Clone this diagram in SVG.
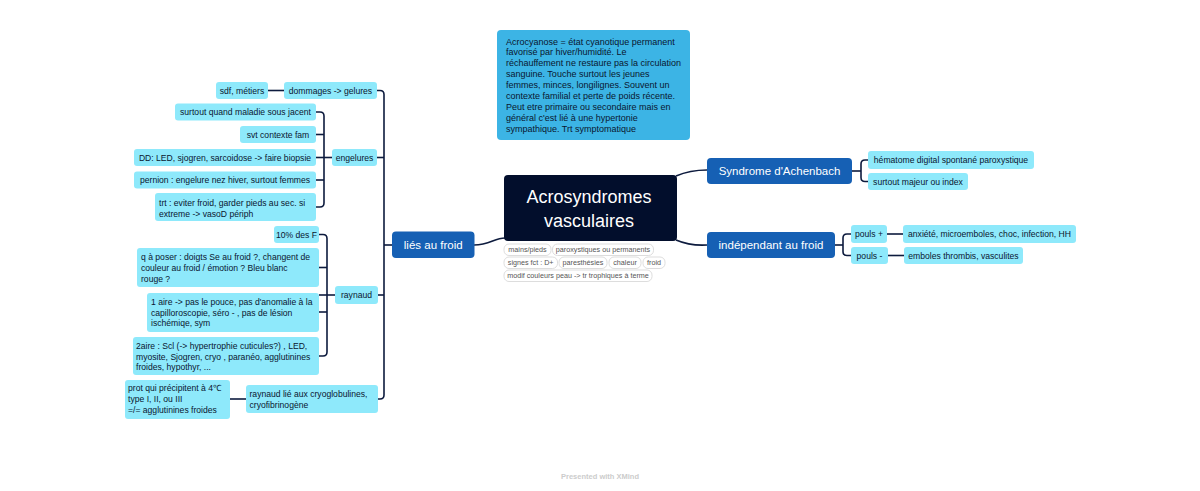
<svg xmlns="http://www.w3.org/2000/svg" width="1200" height="491" viewBox="0 0 1200 491">
<style>
.c{fill:#8ee9fb}
.b{fill:#1660b4}
.t{font-family:"Liberation Sans",Arial,sans-serif;font-size:8.6px;fill:#0a1630}
.tm{text-anchor:middle}
.w{font-family:"Liberation Sans",Arial,sans-serif;font-size:11.5px;fill:#ffffff;text-anchor:middle}
.p{fill:#ffffff;stroke:#d4d4d4;stroke-width:0.8}
.pt{font-family:"Liberation Sans",Arial,sans-serif;font-size:7.2px;fill:#555;text-anchor:middle}
.ln{fill:none;stroke:#0d1b3e;stroke-width:1.6}
</style>
<rect width="1200" height="491" fill="#ffffff"/>
<g id="connectors" class="ln">
<path d="M474,245 C490,245 494,238 505,238"/>
<path d="M676,176 Q690,170 707,170"/>
<path d="M676,240 Q690,246 707,245"/>
<path d="M392,245 H384"/>
<path d="M377,90.5 H380 Q384,90.5 384,94.5 V395 Q384,399 380,399 H378"/>
<path d="M377,157.5 H384"/>
<path d="M378,295 H384"/>
<path d="M268,90.5 H284"/>
<path d="M332,157.5 H316"/>
<path d="M316,112 H320 Q324,112 324,116 V203 Q324,207 320,207 H316"/>
<path d="M316,134.5 H324"/>
<path d="M316,180 H324"/>
<path d="M335,295 H319"/>
<path d="M319,234.5 H323 Q327,234.5 327,238.5 V352 Q327,356 323,356 H319"/>
<path d="M319,267.5 H327"/>
<path d="M319,312 H327"/>
<path d="M230,399 H246"/>
<path d="M852,171 H861"/>
<path d="M868,160 H865 Q861,160 861,164 V177.5 Q861,181.5 865,181.5 H868"/>
<path d="M835,245 H843"/>
<path d="M851,234 H847 Q843,234 843,238 V251.5 Q843,255.5 847,255.5 H851"/>
<path d="M887,234 H903"/>
<path d="M888,255.5 H904"/>
</g>
<g id="note">
<rect x="497" y="30" width="193" height="110" rx="4" fill="#3cb4e5"/>
<text class="t" style="font-size:9px" x="506">
<tspan x="506" y="44.5">Acrocyanose = état cyanotique permanent</tspan>
<tspan x="506" y="55.4">favorisé par hiver/humidité. Le</tspan>
<tspan x="506" y="66.3">réchauffement ne restaure pas la circulation</tspan>
<tspan x="506" y="77.2">sanguine. Touche surtout les jeunes</tspan>
<tspan x="506" y="88.1">femmes, minces, longilignes. Souvent un</tspan>
<tspan x="506" y="99">contexte familial et perte de poids récente.</tspan>
<tspan x="506" y="109.9">Peut etre primaire ou secondaire mais en</tspan>
<tspan x="506" y="120.8">général c'est lié à une hypertonie</tspan>
<tspan x="506" y="131.7">sympathique. Trt symptomatique</tspan>
</text>
</g>
<g id="central">
<rect x="504" y="175" width="173" height="66" rx="4" fill="#020e2c"/>
<text font-family="Liberation Sans,Arial,sans-serif" font-size="18" fill="#ffffff" text-anchor="middle"><tspan x="589" y="203">Acrosyndromes</tspan><tspan x="589" y="226.5">vasculaires</tspan></text>
</g>
<g id="central-labels">
<rect class="p" x="504" y="244" width="47" height="11.5" rx="5"/><text class="pt" x="527.5" y="252.3">mains/pieds</text>
<rect class="p" x="552.5" y="244" width="101" height="11.5" rx="5"/><text class="pt" x="603" y="252.3">paroxystiques ou permanents</text>
<rect class="p" x="504" y="257" width="53.5" height="11.5" rx="5"/><text class="pt" x="530.7" y="265.3">signes fct : D+</text>
<rect class="p" x="559" y="257" width="48" height="11.5" rx="5"/><text class="pt" x="583" y="265.3">paresthésies</text>
<rect class="p" x="609" y="257" width="32" height="11.5" rx="5"/><text class="pt" x="625" y="265.3">chaleur</text>
<rect class="p" x="643" y="257" width="22" height="11.5" rx="5"/><text class="pt" x="654" y="265.3">froid</text>
<rect class="p" x="504" y="270" width="148" height="11.5" rx="5"/><text class="pt" x="578" y="278.3">modif couleurs peau -&gt; tr trophiques à terme</text>
</g>
<g id="lies-au-froid">
<rect class="b" x="392" y="231.5" width="82.5" height="26.5" rx="4"/>
<text class="w" x="433.2" y="249">liés au froid</text>
</g>
<g id="dommages">
<rect class="c" x="284" y="82" width="93" height="17" rx="3"/>
<text class="t tm" x="330.5" y="93.5">dommages -&gt; gelures</text>
</g>
<g id="sdf">
<rect class="c" x="216" y="82" width="52" height="17" rx="3"/>
<text class="t tm" x="242" y="93.5">sdf, métiers</text>
</g>
<g id="engelures">
<rect class="c" x="332" y="149" width="45" height="17" rx="3"/>
<text class="t tm" x="354.5" y="160.5">engelures</text>
</g>
<g id="maladie">
<rect class="c" x="175" y="103.5" width="141" height="17" rx="3"/>
<text class="t tm" x="245.5" y="115">surtout quand maladie sous jacent</text>
</g>
<g id="contexte">
<rect class="c" x="240" y="126" width="76" height="17" rx="3"/>
<text class="t tm" x="278" y="137.5">svt contexte fam</text>
</g>
<g id="dd">
<rect class="c" x="134" y="149" width="182" height="17" rx="3"/>
<text class="t tm" x="225" y="160.5">DD: LED, sjogren, sarcoidose -&gt; faire biopsie</text>
</g>
<g id="pernion">
<rect class="c" x="134" y="171.5" width="182" height="17" rx="3"/>
<text class="t tm" x="225" y="183">pernion : engelure nez hiver, surtout femmes</text>
</g>
<g id="trt">
<rect class="c" x="155" y="193" width="161" height="28" rx="3"/>
<text class="t"><tspan x="159" y="206">trt : eviter froid, garder pieds au sec. si</tspan><tspan x="159" y="217">extreme -&gt; vasoD périph</tspan></text>
</g>
<g id="raynaud">
<rect class="c" x="335" y="286" width="43" height="18" rx="3"/>
<text class="t tm" x="356.5" y="298">raynaud</text>
</g>
<g id="dix-pourcent">
<rect class="c" x="274" y="226" width="45" height="17" rx="3"/>
<text class="t tm" x="296.5" y="237.5">10% des F</text>
</g>
<g id="q-a-poser">
<rect class="c" x="137" y="248" width="182" height="39" rx="3"/>
<text class="t"><tspan x="141" y="260">q à poser : doigts Se au froid ?, changent de</tspan><tspan x="141" y="271">couleur au froid / émotion ? Bleu blanc</tspan><tspan x="141" y="282">rouge ?</tspan></text>
</g>
<g id="primaire">
<rect class="c" x="147" y="293" width="172" height="39" rx="3"/>
<text class="t"><tspan x="151" y="305">1 aire -&gt; pas le pouce, pas d'anomalie à la</tspan><tspan x="151" y="315.5">capilloroscopie, séro - , pas de lésion</tspan><tspan x="151" y="326">ischémiqe, sym</tspan></text>
</g>
<g id="secondaire">
<rect class="c" x="133" y="337" width="186" height="38" rx="3"/>
<text class="t"><tspan x="136" y="349">2aire : Scl (-&gt; hypertrophie cuticules?) , LED,</tspan><tspan x="136" y="359.5">myosite, Sjogren, cryo , paranéo, agglutinines</tspan><tspan x="136" y="370">froides, hypothyr, ...</tspan></text>
</g>
<g id="cryo">
<rect class="c" x="246" y="385" width="132" height="28" rx="3"/>
<text class="t"><tspan x="249.5" y="397">raynaud lié aux cryoglobulines,</tspan><tspan x="249.5" y="407.5">cryofibrinogène</tspan></text>
</g>
<g id="prot">
<rect class="c" x="125" y="380" width="105" height="39" rx="3"/>
<text class="t"><tspan x="128" y="391">prot qui précipitent à 4℃</tspan><tspan x="128" y="402">type I, II, ou III</tspan><tspan x="128" y="413">=/= agglutinines froides</tspan></text>
</g>
<g id="achenbach">
<rect class="b" x="707" y="158" width="145" height="26" rx="4"/>
<text class="w" x="779.5" y="175">Syndrome d'Achenbach</text>
</g>
<g id="hematome">
<rect class="c" x="868" y="151" width="166" height="18" rx="3"/>
<text class="t tm" x="951" y="163">hématome digital spontané paroxystique</text>
</g>
<g id="majeur">
<rect class="c" x="868" y="173" width="100" height="17" rx="3"/>
<text class="t tm" x="918" y="184.5">surtout majeur ou index</text>
</g>
<g id="independant">
<rect class="b" x="707" y="232" width="128" height="26" rx="4"/>
<text class="w" x="771" y="249">indépendant au froid</text>
</g>
<g id="pouls-plus">
<rect class="c" x="851" y="225" width="36" height="18" rx="3"/>
<text class="t tm" x="869" y="237">pouls +</text>
</g>
<g id="pouls-moins">
<rect class="c" x="851" y="247" width="37" height="17" rx="3"/>
<text class="t tm" x="869.5" y="258.5">pouls -</text>
</g>
<g id="anxiete">
<rect class="c" x="903" y="225" width="173" height="18" rx="3"/>
<text class="t tm" x="989.5" y="237">anxiété, microemboles, choc, infection, HH</text>
</g>
<g id="emboles">
<rect class="c" x="904" y="247" width="119" height="17" rx="3"/>
<text class="t tm" x="963.5" y="258.5">emboles thrombis, vasculites</text>
</g>
<text x="600" y="478.5" font-family="Liberation Sans,Arial,sans-serif" font-size="7.5" font-weight="bold" fill="#cccccc" text-anchor="middle">Presented with XMind</text>
</svg>
